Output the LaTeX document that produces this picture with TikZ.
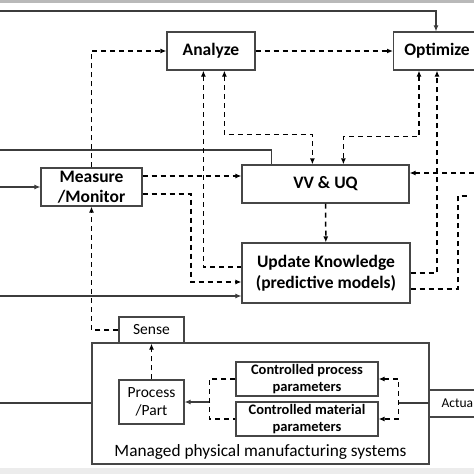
\documentclass[tikz,border=0pt]{standalone}
\usepackage{fontspec}
\setmainfont{Carlito}
\usetikzlibrary{arrows.meta}
\definecolor{linegray}{RGB}{60,60,60}
\definecolor{boxgray}{RGB}{70,70,70}
\definecolor{topband}{RGB}{185,185,185}
\definecolor{botband}{RGB}{236,236,236}

\begin{document}
\begin{tikzpicture}[x=1pt, y=-1pt,
  box/.style={draw=boxgray, line width=1.2pt, inner sep=0pt, align=center, font=\fontsize{17.5}{20.5}\selectfont\bfseries},
  sbox/.style={draw=boxgray, line width=1.2pt, inner sep=0pt, align=center, font=\fontsize{15.5}{17.5}\selectfont},
  cbox/.style={draw=boxgray, line width=1.2pt, inner sep=0pt, align=center, font=\fontsize{14.5}{17}\selectfont\bfseries},
  dline/.style={line width=1.5pt, dash pattern=on 5pt off 4pt, >={Latex[length=6pt,width=5pt]}},
  sline/.style={draw=linegray, line width=1.1pt, >={Latex[length=6pt,width=5pt]}}]
% Canvas and bands
\clip (0,0) rectangle (474,474);
\fill[white] (0,0) rectangle (474,474);
\fill[topband] (0,0) rectangle (474,2.5);
\fill[botband] (0,468) rectangle (474,474);

% Decision and model nodes
\node[box, minimum width=88, minimum height=38] (analyze) at (211,51) {Analyze};
\node[box, minimum width=87, minimum height=38, anchor=west] (optimize) at (393,51) {Optimize};
\node[box, minimum width=101, minimum height=38] (measure) at (91.5,187) {Measure\\/Monitor};
\node[box, minimum width=167, minimum height=38] (vvuq) at (325.5,184) {VV \& UQ};
\node[box, minimum width=168, minimum height=60] (update) at (326,273) {Update Knowledge\\(predictive models)};

% Physical system nodes
\node[sbox, minimum width=337, minimum height=121] (managed) at (260.5,403.5) {};
\node[font=\fontsize{17.3}{19}\selectfont] (mlabel) at (260.5,452) {Managed physical manufacturing systems};
\node[sbox, minimum width=65, minimum height=26] (sense) at (151.5,330) {Sense};
\node[sbox, minimum width=65, minimum height=44] (process) at (151.5,402) {Process\\/Part};
\node[cbox, minimum width=142, minimum height=34] (cpp) at (307,379) {Controlled process\\parameters};
\node[cbox, minimum width=142, minimum height=34] (cmp) at (307,419) {Controlled material\\parameters};
\node[sbox, font=\fontsize{13.5}{16}\selectfont, minimum height=27, text width=31, inner xsep=12, align=left, anchor=west] (actua) at (429,403.5) {Actua};

% Free ends at the cut edges
\coordinate (l1) at (0,11);
\coordinate (l2) at (0,150);
\coordinate (l3) at (0,187);
\coordinate (l4) at (0,296);
\coordinate (l5) at (0,403);
\coordinate (rin) at (474,173);
\coordinate (rout) at (470,196);
\coordinate (jl) at (210,402);
\coordinate (jr) at (398,403);

% Solid links
\draw[sline, ->] (l1) -| ([xshift=43]optimize.north west);
\draw[sline] (l2) -| ([xshift=30]vvuq.north west);
\draw[sline, ->] (l3) -- (measure.west);
\draw[sline, ->] (l4) -- (update.west |- l4);
\draw[sline] (l5) -- (managed.west |- l5);
\draw[sline, ->] (jl) -- (process.east);
\draw[sline] (jr) -- (actua.west |- jr);

% Dashed information flows
\draw[dline, ->] (analyze) -- (optimize);
\draw[dline, ->] (measure.north) |- (analyze.west);
\draw[dline, ->] (sense.west) -| (measure.south);
\draw[dline, ->] (measure.east |- 0,176) -- (vvuq.west |- 0,176);
\draw[dline, ->] (measure.east |- 0,194) -- (191,194) |- (update.west |- 0,282);
\draw[dline, <-] ([xshift=37]analyze.south west) |- (update.west |- 0,267);
\draw[dline, <->] ([xshift=58]analyze.south west) -- ++(0,64) -| ([xshift=71]vvuq.north west);
\draw[dline, <->] ([xshift=26]optimize.south west) -- ++(0,66) -| ([xshift=102]vvuq.north west);
\draw[dline, ->] (update.east) -| ([xshift=44]optimize.south west);
\draw[dline, ->] (rin) -- (vvuq.east |- rin);
\draw[dline] (update.east |- 0,289) -| (458,196) -- (rout);
\draw[dline, ->] (vvuq) -- (update);
\draw[dline, ->] (process) -- (sense);
\draw[dline] (cpp.west) -- ++(-26,0) |- (cmp.west);
\draw[dline, <->] (cpp.east) -- ++(20,0) |- (cmp.east);
\end{tikzpicture}
\end{document}
